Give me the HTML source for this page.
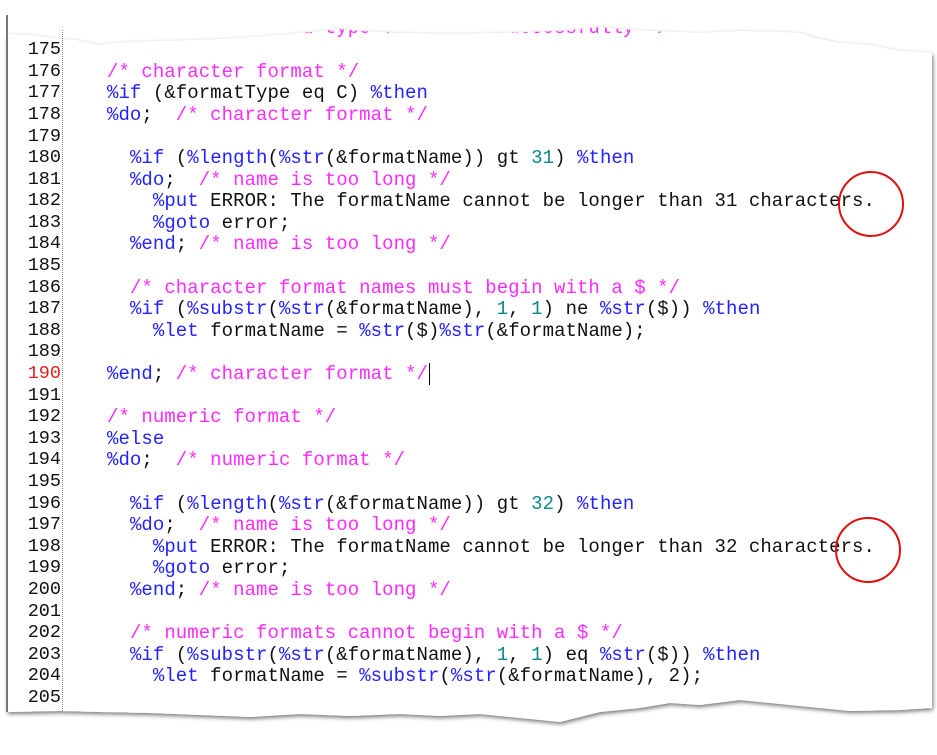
<!DOCTYPE html>
<html><head><meta charset="utf-8"><style>
body{margin:0;width:937px;height:755px;background:#fff;position:relative;overflow:hidden;font-family:"Liberation Mono",monospace;}
#paper{position:absolute;left:0;top:0;width:937px;height:755px;}
#code{position:absolute;left:0;top:0;width:937px;height:755px;clip-path:path("M7,15 L7,34 L30,35 L50,38 L75,40 L100,45 L115,43 L130,42 L160,41 L200,40 L240,38 L280,35 L310,32 L340,29 L360,31 L400,33 L450,34 L500,33 L560,31 L600,27 L620,29 L650,31 L700,33 L740,31 L780,32 L800,33 L815,38 L840,43 L870,45 L900,51 L920,52 L932,53 L932,708 L900,710 L850,711 L800,706 L760,702 L740,700 L700,705 L670,703 L640,708 L600,712 L560,722 L520,718 L480,714 L440,716 L400,714 L350,716 L300,714 L250,717 L200,715 L150,713 L100,712 L60,711 L7,712 Z");}
.ln{position:absolute;left:0;width:61px;text-align:right;font-size:18.5px;color:#111;line-height:22px;}
.c{position:absolute;left:107px;font-size:19px;letter-spacing:0.06px;white-space:pre;color:#111;line-height:22px;}
.k{color:#2323ff}.m{color:#ff2bff}.n{color:#0a8a8a}
</style></head><body>
<svg id="paper" width="937" height="755">
<defs><filter id="s" x="-5%" y="-5%" width="110%" height="110%"><feDropShadow dx="1" dy="2" stdDeviation="2" flood-color="#000" flood-opacity="0.55"/></filter></defs>
<path filter="url(#s)" fill="#fff" d="M7,15 L7,34 L30,35 L50,38 L75,40 L100,45 L115,43 L130,42 L160,41 L200,40 L240,38 L280,35 L310,32 L340,29 L360,31 L400,33 L450,34 L500,33 L560,31 L600,27 L620,29 L650,31 L700,33 L740,31 L780,32 L800,33 L815,38 L840,43 L870,45 L900,51 L920,52 L932,53 L932,708 L900,710 L850,711 L800,706 L760,702 L740,700 L700,705 L670,703 L640,708 L600,712 L560,722 L520,718 L480,714 L440,716 L400,714 L350,716 L300,714 L250,717 L200,715 L150,713 L100,712 L60,711 L7,712 Z"/>
<line x1="7" y1="15" x2="7" y2="712" stroke="#777" stroke-width="2"/>
<line x1="62.5" y1="30" x2="62.5" y2="712" stroke="#888" stroke-width="1" stroke-dasharray="1,1"/>
</svg>
<div id="code">
<div class="c" style="top:17px;left:107px"><span class="m">/* format name and type validated successfully */</span></div>
<div class="ln" style="top:39px">175</div>
<div class="ln" style="top:61px">176</div><div class="c" style="top:61px"><span class="m">/* character format */</span></div>
<div class="ln" style="top:82px">177</div><div class="c" style="top:82px"><span class="k">%if</span> (&amp;formatType eq C) <span class="k">%then</span></div>
<div class="ln" style="top:104px">178</div><div class="c" style="top:104px"><span class="k">%do</span>;  <span class="m">/* character format */</span></div>
<div class="ln" style="top:126px">179</div>
<div class="ln" style="top:147px">180</div><div class="c" style="top:147px">  <span class="k">%if</span> (<span class="k">%length</span>(<span class="k">%str</span>(&amp;formatName)) gt <span class="n">31</span>) <span class="k">%then</span></div>
<div class="ln" style="top:169px">181</div><div class="c" style="top:169px">  <span class="k">%do</span>;  <span class="m">/* name is too long */</span></div>
<div class="ln" style="top:190px">182</div><div class="c" style="top:190px">    <span class="k">%put</span> ERROR: The formatName cannot be longer than 31 characters.</div>
<div class="ln" style="top:212px">183</div><div class="c" style="top:212px">    <span class="k">%goto</span> error;</div>
<div class="ln" style="top:233px">184</div><div class="c" style="top:233px">  <span class="k">%end</span>; <span class="m">/* name is too long */</span></div>
<div class="ln" style="top:255px">185</div>
<div class="ln" style="top:277px">186</div><div class="c" style="top:277px">  <span class="m">/* character format names must begin with a $ */</span></div>
<div class="ln" style="top:298px">187</div><div class="c" style="top:298px">  <span class="k">%if</span> (<span class="k">%substr</span>(<span class="k">%str</span>(&amp;formatName), <span class="n">1</span>, <span class="n">1</span>) ne <span class="k">%str</span>($)) <span class="k">%then</span></div>
<div class="ln" style="top:320px">188</div><div class="c" style="top:320px">    <span class="k">%let</span> formatName = <span class="k">%str</span>($)<span class="k">%str</span>(&amp;formatName);</div>
<div class="ln" style="top:341px">189</div>
<div class="ln" style="top:363px;color:#e02020">190</div><div class="c" style="top:363px"><span class="k">%end</span>; <span class="m">/* character format */</span><span style="border-left:1.5px solid #000;margin-left:1px"></span></div>
<div class="ln" style="top:385px">191</div>
<div class="ln" style="top:406px">192</div><div class="c" style="top:406px"><span class="m">/* numeric format */</span></div>
<div class="ln" style="top:428px">193</div><div class="c" style="top:428px"><span class="k">%else</span></div>
<div class="ln" style="top:449px">194</div><div class="c" style="top:449px"><span class="k">%do</span>;  <span class="m">/* numeric format */</span></div>
<div class="ln" style="top:471px">195</div>
<div class="ln" style="top:493px">196</div><div class="c" style="top:493px">  <span class="k">%if</span> (<span class="k">%length</span>(<span class="k">%str</span>(&amp;formatName)) gt <span class="n">32</span>) <span class="k">%then</span></div>
<div class="ln" style="top:514px">197</div><div class="c" style="top:514px">  <span class="k">%do</span>;  <span class="m">/* name is too long */</span></div>
<div class="ln" style="top:536px">198</div><div class="c" style="top:536px">    <span class="k">%put</span> ERROR: The formatName cannot be longer than 32 characters.</div>
<div class="ln" style="top:557px">199</div><div class="c" style="top:557px">    <span class="k">%goto</span> error;</div>
<div class="ln" style="top:579px">200</div><div class="c" style="top:579px">  <span class="k">%end</span>; <span class="m">/* name is too long */</span></div>
<div class="ln" style="top:601px">201</div>
<div class="ln" style="top:622px">202</div><div class="c" style="top:622px">  <span class="m">/* numeric formats cannot begin with a $ */</span></div>
<div class="ln" style="top:644px">203</div><div class="c" style="top:644px">  <span class="k">%if</span> (<span class="k">%substr</span>(<span class="k">%str</span>(&amp;formatName), <span class="n">1</span>, <span class="n">1</span>) eq <span class="k">%str</span>($)) <span class="k">%then</span></div>
<div class="ln" style="top:665px">204</div><div class="c" style="top:665px">    <span class="k">%let</span> formatName = <span class="k">%substr</span>(<span class="k">%str</span>(&amp;formatName), 2);</div>
<div class="ln" style="top:687px">205</div>
</div>
<svg style="position:absolute;left:0;top:0" width="937" height="755">
<circle cx="871" cy="204" r="32" fill="none" stroke="#e01010" stroke-width="2"/>
<circle cx="868" cy="550" r="32" fill="none" stroke="#e01010" stroke-width="2"/>
</svg>
</body></html>
